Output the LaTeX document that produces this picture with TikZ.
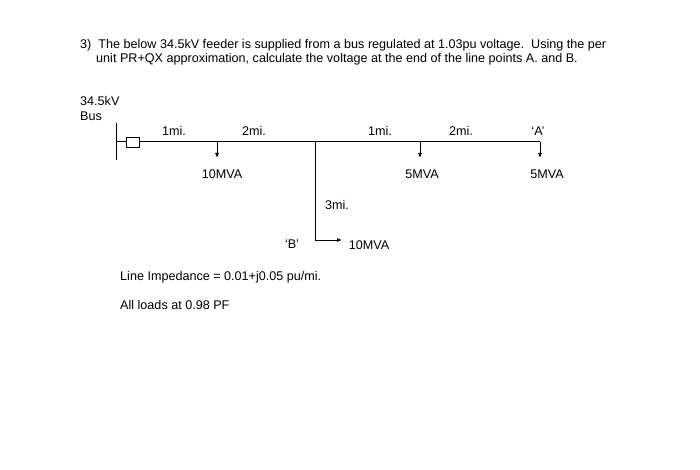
\documentclass[tikz,border=0pt]{standalone}
\usepackage{fontspec}
\setmainfont{Liberation Sans}
\usetikzlibrary{arrows.meta}
\begin{document}
\begin{tikzpicture}[x=1pt,y=-1pt,font=\fontsize{12.6}{15}\selectfont,
  wire/.style={line width=1pt},
  load/.style={line width=0.8pt,-{Latex[length=5pt,width=4pt]}},
  lbl/.style={inner sep=0pt}]
\useasboundingbox (0,0) rectangle (700,470);
\node[lbl,anchor=west] (t1) at (80,45) {3)\ \ The below 34.5kV feeder is supplied from a bus regulated at 1.03pu voltage.\ \ Using the per};
\node[lbl,anchor=west] (t2) at (96,59) {unit PR+QX approximation, calculate the voltage at the end of the line points A. and B.};
\node[lbl,anchor=west] (kv) at (80,101) {34.5kV};
\node[lbl,anchor=west] (bus) at (80,116) {Bus};
\coordinate (b1) at (116,123); \coordinate (b2) at (116,160);
\draw[wire] (b1) -- (b2);
\coordinate (m0) at (116,142);
\node[draw,line width=0.8pt,minimum width=13pt,minimum height=10pt,inner sep=0pt] (brk) at (133,142) {};
\coordinate (l1) at (217,142); \coordinate (j) at (315,142);
\coordinate (l2) at (420,142); \coordinate (a) at (540,142);
\draw[wire] (m0) -- (brk.west); \draw[wire] (brk.east) -- (a);
\coordinate (bb) at (315,240);
\draw[wire] (j) -- (bb);
\coordinate (l1e) at (217,158); \coordinate (l2e) at (420,158);
\coordinate (ae) at (540,158); \coordinate (be) at (342,240);
\draw[load] (l1) -- (l1e); \draw[load] (l2) -- (l2e);
\draw[load] (a) -- (ae); \draw[load] (bb) -- (be);
\node[lbl] (d1) at (174,131) {1mi.};
\node[lbl] (d2) at (254,131) {2mi.};
\node[lbl] (d3) at (380,131) {1mi.};
\node[lbl] (d4) at (461,131) {2mi.};
\node[lbl] (pa) at (538,131) {‘A’};
\node[lbl] (s1) at (222,174) {10MVA};
\node[lbl] (s2) at (422,174) {5MVA};
\node[lbl] (s3) at (547,174) {5MVA};
\node[lbl] (d5) at (337,205) {3mi.};
\node[lbl] (pb) at (292,244) {‘B’};
\node[lbl] (s4) at (369,245) {10MVA};
\node[lbl,anchor=west] (li) at (120,277) {Line Impedance = 0.01+j0.05 pu/mi.};
\node[lbl,anchor=west] (pf) at (120,305) {All loads at 0.98 PF};
\end{tikzpicture}
\end{document}
